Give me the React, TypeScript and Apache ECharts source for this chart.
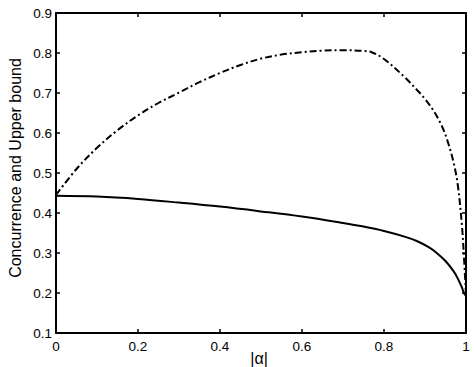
import React, { useEffect, useRef } from "react";
import * as echarts from "echarts";

const xTicks = [0, 0.2, 0.4, 0.6, 0.8, 1];
const yTicks = [0.1, 0.2, 0.3, 0.4, 0.5, 0.6, 0.7, 0.8, 0.9];

const concX = [0, 0.1, 0.2, 0.3, 0.4, 0.5, 0.6, 0.7, 0.75, 0.8, 0.85, 0.88, 0.91, 0.93, 0.95, 0.97, 0.98, 0.99, 0.995, 1.0];
const concY = [0.443, 0.441, 0.435, 0.426, 0.416, 0.404, 0.391, 0.375, 0.366, 0.355, 0.341, 0.33, 0.314, 0.299, 0.28, 0.254, 0.236, 0.214, 0.2, 0.193];

const boundX = [0, 0.05, 0.1, 0.15, 0.2, 0.25, 0.3, 0.35, 0.4, 0.45, 0.5, 0.55, 0.6, 0.65, 0.7, 0.75, 0.77, 0.8, 0.85, 0.88, 0.9, 0.92, 0.94, 0.955, 0.97, 0.98, 0.99, 0.995, 1.0];
const boundY = [0.445, 0.51, 0.563, 0.607, 0.644, 0.675, 0.701, 0.727, 0.75, 0.77, 0.786, 0.796, 0.802, 0.806, 0.807, 0.805, 0.802, 0.785, 0.74, 0.708, 0.685, 0.657, 0.62, 0.58, 0.525, 0.47, 0.37, 0.29, 0.195];

const xLabel = "|α|";
const yLabel = "Concurrence and Upper bound";

export default function App() {
  const ref = useRef<HTMLDivElement>(null);
  useEffect(() => {
    if (!ref.current) return;
    const chart = echarts.init(ref.current, null, { renderer: "svg" });
    const font = "Liberation Sans, Arial, Helvetica, sans-serif";
    const axisCommon = {
      type: "value" as const,
      axisLine: { show: true, onZero: false, lineStyle: { color: "#000", width: 2 } },
      axisTick: { show: true, inside: true, length: 4, lineStyle: { color: "#000", width: 1.5 } },
      splitLine: { show: false },
    };
    chart.setOption({
      animation: false,
      backgroundColor: "#fff",
      grid: { left: 56, right: 8, top: 13, bottom: 34, containLabel: false },
      xAxis: [
        {
          ...axisCommon,
          position: "bottom",
          min: 0,
          max: 1,
          interval: 0.2,
          axisLabel: {
            color: "#000",
            fontSize: 13.5,
            fontFamily: font,
            margin: 6,
            formatter: (v: number) => (xTicks.some((t) => Math.abs(t - v) < 1e-9) ? String(+v.toFixed(1)) : ""),
          },
        },
        {
          ...axisCommon,
          position: "top",
          min: 0,
          max: 1,
          interval: 0.2,
          axisLabel: { show: false },
        },
      ],
      yAxis: [
        {
          ...axisCommon,
          position: "left",
          min: 0.1,
          max: 0.9,
          interval: 0.1,
          axisLabel: {
            color: "#000",
            fontSize: 13.5,
            fontFamily: font,
            margin: 4,
            formatter: (v: number) => (yTicks.some((t) => Math.abs(t - v) < 1e-9) ? v.toFixed(1) : ""),
          },
        },
        {
          ...axisCommon,
          position: "right",
          min: 0.1,
          max: 0.9,
          interval: 0.1,
          axisLabel: { show: false },
        },
      ],
      graphic: [
        {
          type: "text",
          x: 15,
          y: 168,
          rotation: Math.PI / 2,
          style: {
            text: yLabel,
            fill: "#000",
            fontSize: 16,
            fontFamily: font,
            align: "center",
            verticalAlign: "middle",
          },
        },
        {
          type: "text",
          x: 259,
          y: 358,
          style: {
            text: xLabel,
            fill: "#000",
            fontSize: 16,
            fontFamily: font,
            align: "center",
            verticalAlign: "middle",
          },
        },
      ],
      series: [
        {
          type: "line",
          name: "Concurrence",
          data: concX.map((x, i) => [x, concY[i]]),
          showSymbol: false,
          smooth: 0.35,
          lineStyle: { color: "#000", width: 2, type: "solid" },
          z: 3,
        },
        {
          type: "line",
          name: "Upper bound",
          data: boundX.map((x, i) => [x, boundY[i]]),
          showSymbol: false,
          smooth: 0.35,
          lineStyle: { color: "#000", width: 2, type: [7, 3, 2, 3] },
          z: 3,
        },
      ],
    });
    return () => chart.dispose();
  }, []);
  return <div ref={ref} style={{ width: 474, height: 367, position: "absolute", left: 0, top: 0 }} />;
}
